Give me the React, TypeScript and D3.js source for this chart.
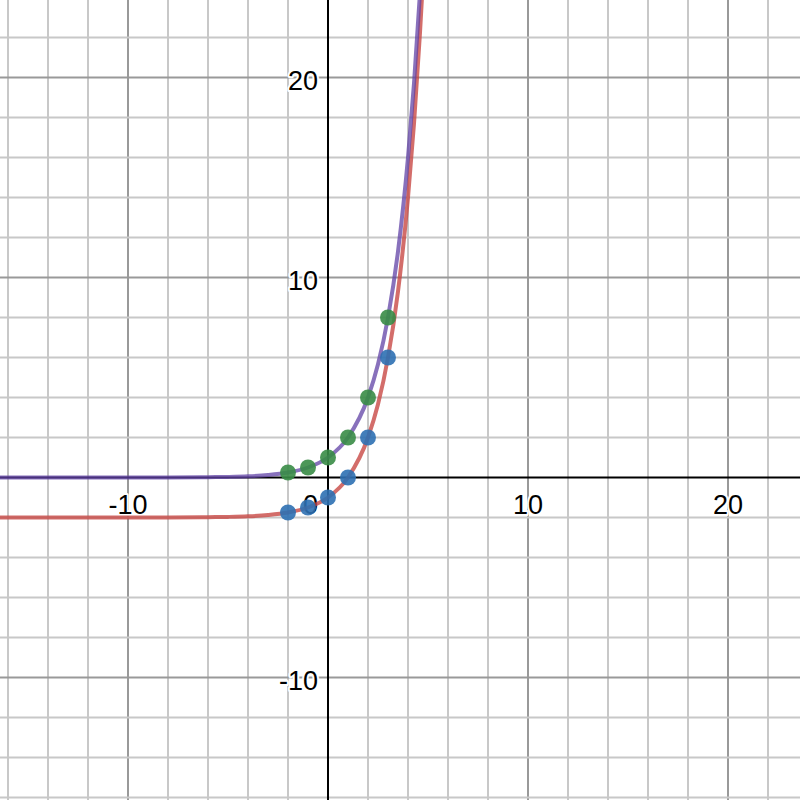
import * as d3 from "d3";

// curve y = 2^x
const purpleX = [-16.4, -8, -6, -5, -4, -3, -2, -1, 0, 1, 2, 2.5, 3, 3.5, 4, 4.3, 4.6];
const purpleY = [0, 0.004, 0.016, 0.03, 0.06, 0.125, 0.25, 0.5, 1, 2, 4, 5.66, 8, 11.3, 16, 19.7, 24.25];

// curve shifted down by 2
const redX = [-16.4, -8, -6, -5, -4, -3, -2, -1, 0, 1, 2, 2.5, 3, 3.5, 4, 4.3, 4.6, 4.75];
const redY = [-2, -1.996, -1.984, -1.97, -1.94, -1.875, -1.75, -1.5, -1, 0, 2, 3.66, 6, 9.3, 14, 17.7, 22.25, 24.9];

// plotted points
const greenX = [-2, -1, 0, 1, 2, 3];
const greenY = [0.25, 0.5, 1, 2, 4, 8];
const blueX = [-2, -1, 0, 1, 2, 3];
const blueY = [-1.75, -1.5, -1, 0, 2, 6];

const xTicks = [-10, 10, 20];
const yTicks = [20, 10, -10];

const W = 800;
const H = 800;

export default function App() {
  const x = d3.scaleLinear().domain([-16.4, 23.6]).range([0, W]);
  const y = d3.scaleLinear().domain([-16.125, 23.875]).range([H, 0]);

  const gridX = d3.range(-16, 24, 2);
  const gridY = d3.range(-16, 24, 2);

  const line = d3
    .line<[number, number]>()
    .x((d) => x(d[0]))
    .y((d) => y(d[1]))
    .curve(d3.curveMonotoneX);

  const purple = purpleX.map((v, i) => [v, purpleY[i]] as [number, number]);
  const red = redX.map((v, i) => [v, redY[i]] as [number, number]);

  const label = {
    fontFamily: "'Liberation Sans', Arial, sans-serif",
    fontSize: 27,
    fill: "#000",
    stroke: "#fff",
    strokeWidth: 4,
    paintOrder: "stroke",
    strokeLinejoin: "round" as const,
  };

  return (
    <svg
      width={W}
      height={H}
      viewBox={`0 0 ${W} ${H}`}
      style={{ position: "absolute", left: 0, top: 0, background: "#fff" }}
    >
      <rect width={W} height={H} fill="#fff" />
      {/* grid */}
      {gridX.filter((v) => v !== 0).map((v) => (
        <line
          key={"gx" + v}
          x1={x(v)}
          x2={x(v)}
          y1={0}
          y2={H}
          stroke={v % 10 === 0 ? "#999" : "#c8c8c8"}
          strokeWidth={2}
        />
      ))}
      {gridY.filter((v) => v !== 0).map((v) => (
        <line
          key={"gy" + v}
          x1={0}
          x2={W}
          y1={y(v)}
          y2={y(v)}
          stroke={v % 10 === 0 ? "#999" : "#c8c8c8"}
          strokeWidth={2}
        />
      ))}
      {/* axes */}
      <line x1={x(0)} x2={x(0)} y1={0} y2={H} stroke="#000" strokeWidth={2} />
      <line x1={0} x2={W} y1={y(0)} y2={y(0)} stroke="#000" strokeWidth={2} />
      {/* labels */}
      {xTicks.map((v) => (
        <text key={"xl" + v} x={x(v)} y={y(0) + 36} textAnchor="middle" {...label}>
          {v}
        </text>
      ))}
      <text x={x(0) - 10} y={y(0) + 36} textAnchor="end" {...label}>
        0
      </text>
      {yTicks.map((v) => (
        <text key={"yl" + v} x={x(0) - 10} y={y(v) + 12.5} textAnchor="end" {...label}>
          {v}
        </text>
      ))}
      {/* curves */}
      <path d={line(red) ?? ""} fill="none" stroke="#c74440" strokeOpacity={0.78} strokeWidth={4} />
      <path d={line(purple) ?? ""} fill="none" stroke="#6042a6" strokeOpacity={0.75} strokeWidth={4} />
      {/* points */}
      {greenX.map((v, i) => (
        <circle key={"g" + i} cx={x(v)} cy={y(greenY[i])} r={8} fill="#388c46" fillOpacity={0.9} />
      ))}
      {blueX.map((v, i) => (
        <circle key={"b" + i} cx={x(v)} cy={y(blueY[i])} r={8} fill="#2d70b3" fillOpacity={0.9} />
      ))}
    </svg>
  );
}
